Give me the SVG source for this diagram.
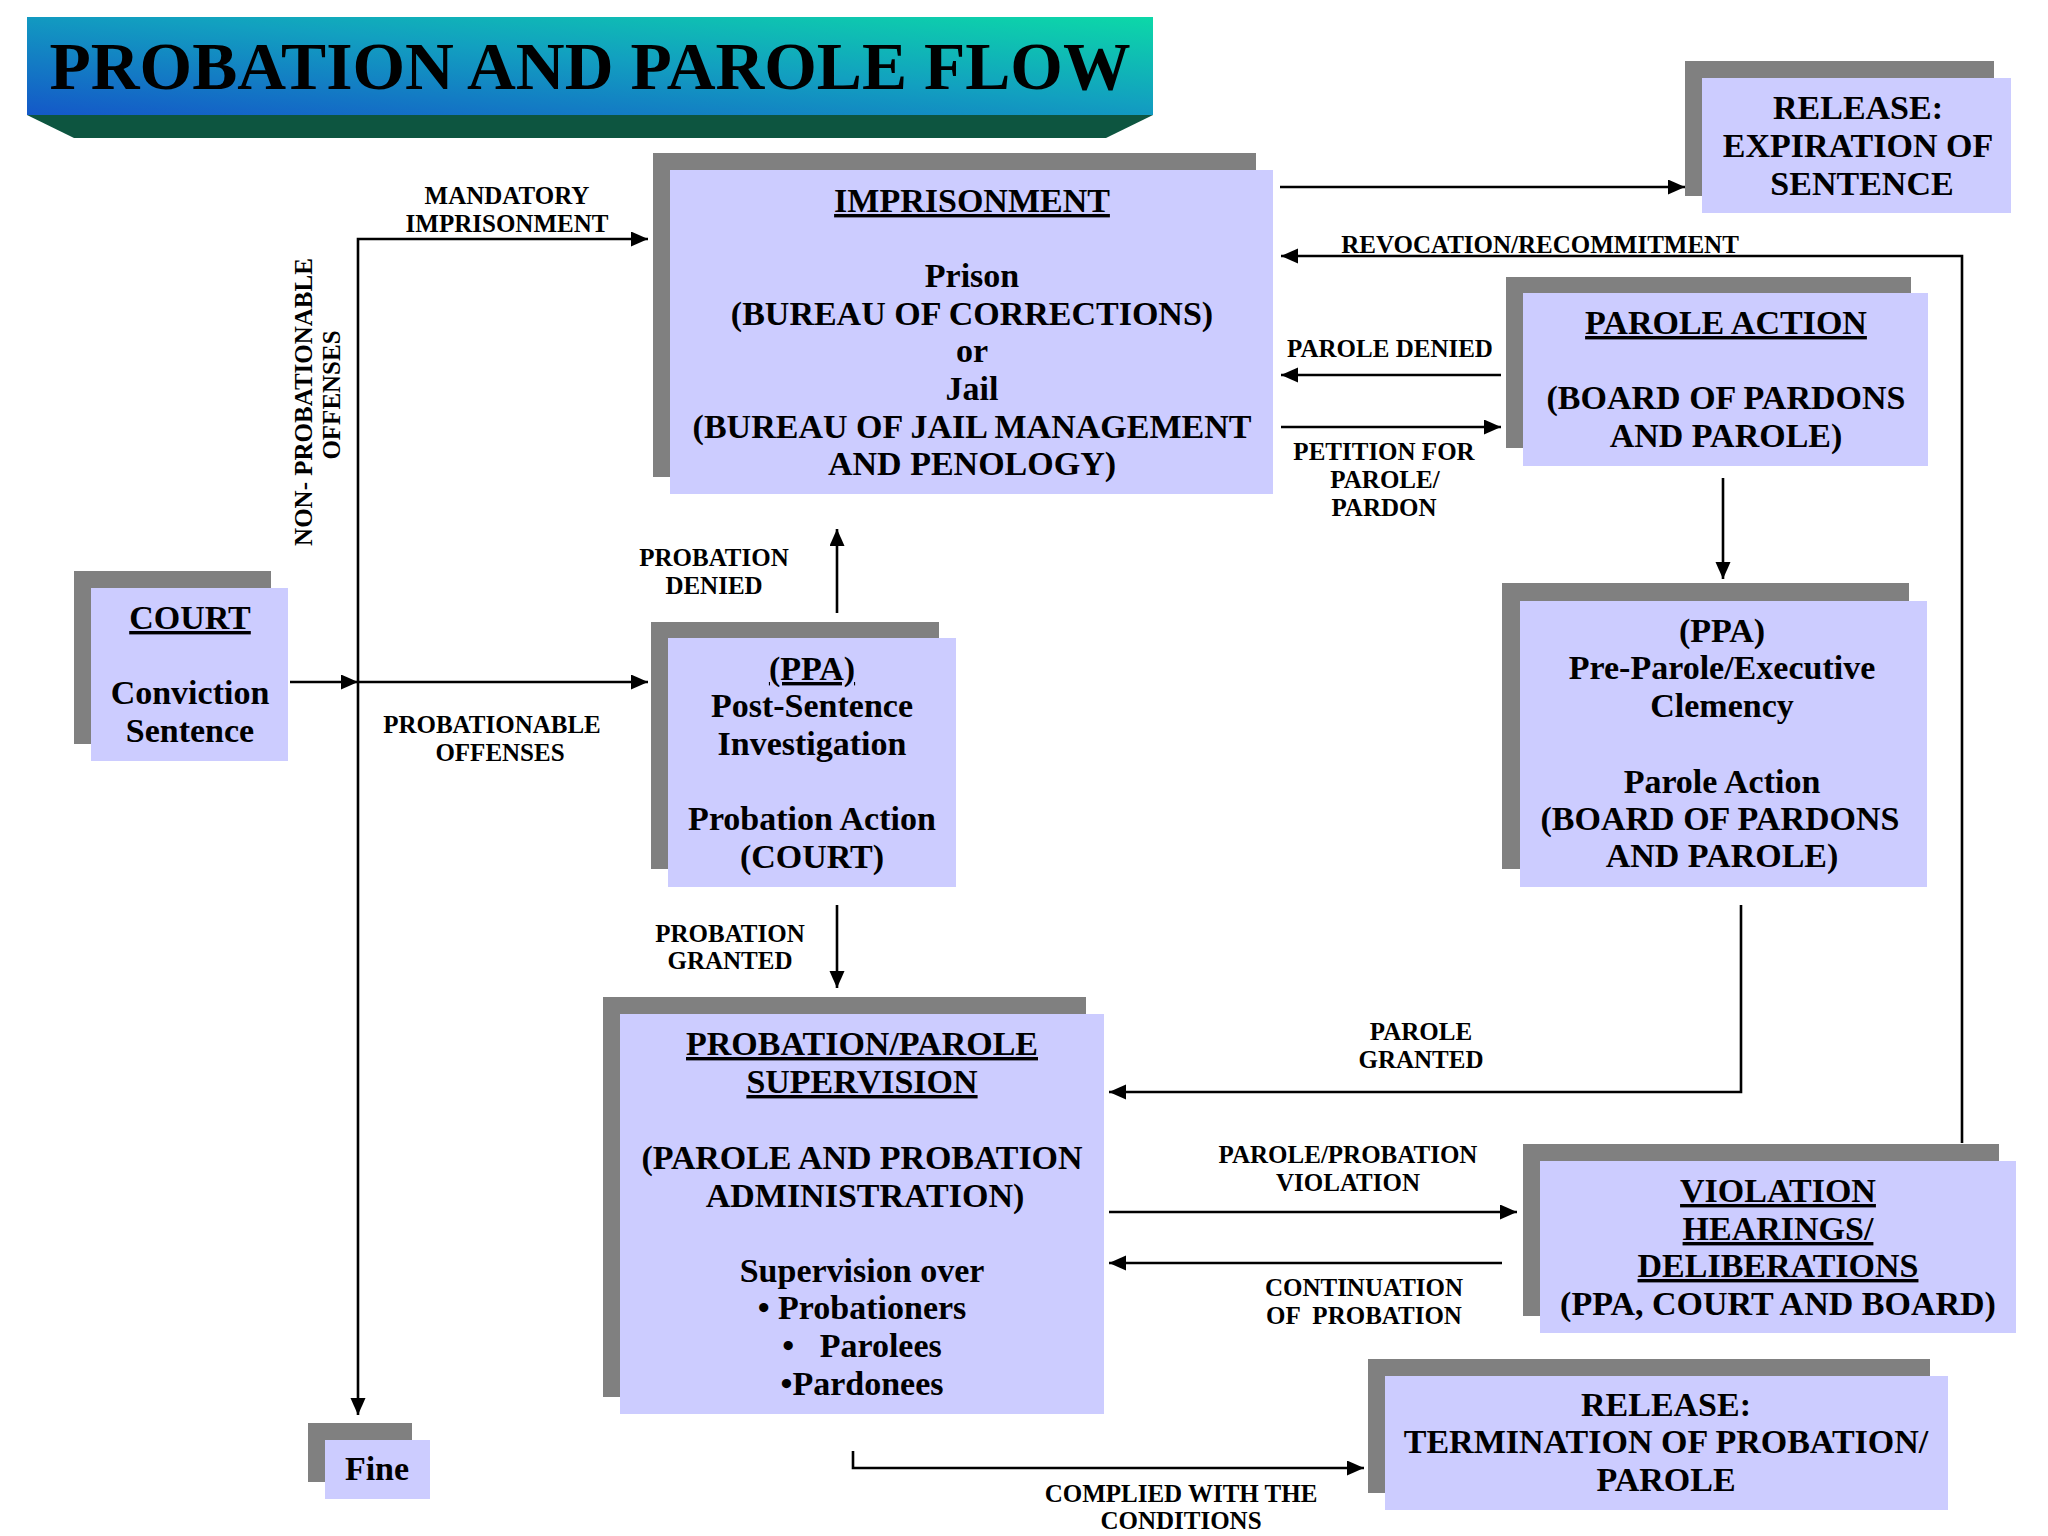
<svg xmlns="http://www.w3.org/2000/svg" width="2048" height="1536" viewBox="0 0 2048 1536">
<defs>
<style>
.t{font-family:"Liberation Serif","Times New Roman",serif;font-weight:bold;fill:#000;text-anchor:middle}
.b{font-size:34px}
.l{font-size:25px}
.u{text-decoration:underline}
.sh{fill:#808080}
.fr{fill:#ccccff}
.c{stroke:#000;stroke-width:2.6;fill:none}
.a{marker-end:url(#ah)}
</style>
<linearGradient id="tg" x1="0" y1="1" x2="1" y2="0">
<stop offset="0" stop-color="#1458c8"/>
<stop offset="0.55" stop-color="#12a0c0"/>
<stop offset="1" stop-color="#0cd8a8"/>
</linearGradient>
<marker id="ah" markerUnits="userSpaceOnUse" markerWidth="18" markerHeight="16" refX="17" refY="7.5" orient="auto">
<path d="M0,0 L17,7.5 L0,15 z" fill="#000"/>
</marker>
</defs>
<rect width="2048" height="1536" fill="#ffffff"/>

<g id="title">
<polygon points="27,115 1153,115 1106,138 74,138" fill="#0d5540"/>
<rect x="27" y="17" width="1126" height="98" fill="url(#tg)"/>
<text class="t" x="590" y="89" font-size="68" textLength="1081" lengthAdjust="spacingAndGlyphs">PROBATION AND PAROLE FLOW</text>
</g>

<g id="connectors">
<polyline class="c a" points="358,682 358,1415"/>
<polyline class="c a" points="358,682 358,239 648,239"/>
<line class="c a" x1="290" y1="682" x2="358" y2="682"/>
<line class="c a" x1="358" y1="682" x2="648" y2="682"/>
<line class="c a" x1="837" y1="613" x2="837" y2="529"/>
<line class="c a" x1="837" y1="905" x2="837" y2="988"/>
<line class="c a" x1="1280" y1="187" x2="1685" y2="187"/>
<polyline class="c a" points="1962,1143 1962,256 1281,256"/>
<line class="c a" x1="1501" y1="375" x2="1281" y2="375"/>
<line class="c a" x1="1281" y1="427" x2="1501" y2="427"/>
<line class="c a" x1="1723" y1="478" x2="1723" y2="579"/>
<polyline class="c a" points="1741,905 1741,1092 1109,1092"/>
<line class="c a" x1="1109" y1="1212" x2="1517" y2="1212"/>
<line class="c a" x1="1502" y1="1263" x2="1109" y2="1263"/>
<polyline class="c a" points="853,1451 853,1468 1364,1468"/>
</g>

<g id="labels">
<text class="t l" x="507" y="204">MANDATORY</text>
<text class="t l" x="507" y="232">IMPRISONMENT</text>
<text class="t l" transform="translate(312,402) rotate(-90)">NON- PROBATIONABLE</text>
<text class="t l" transform="translate(340,395) rotate(-90)">OFFENSES</text>
<text class="t l" x="492" y="733">PROBATIONABLE</text>
<text class="t l" x="500" y="761">OFFENSES</text>
<text class="t l" x="714" y="566">PROBATION</text>
<text class="t l" x="714" y="594">DENIED</text>
<text class="t l" x="730" y="942">PROBATION</text>
<text class="t l" x="730" y="969">GRANTED</text>
<text class="t l" x="1540" y="253">REVOCATION/RECOMMITMENT</text>
<text class="t l" x="1390" y="357">PAROLE DENIED</text>
<text class="t l" x="1384" y="460">PETITION FOR</text>
<text class="t l" x="1385" y="488">PAROLE/</text>
<text class="t l" x="1384" y="516">PARDON</text>
<text class="t l" x="1421" y="1040">PAROLE</text>
<text class="t l" x="1421" y="1068">GRANTED</text>
<text class="t l" x="1348" y="1163">PAROLE/PROBATION</text>
<text class="t l" x="1348" y="1191">VIOLATION</text>
<text class="t l" x="1364" y="1296">CONTINUATION</text>
<text class="t l" x="1364" y="1324" xml:space="preserve">OF  PROBATION</text>
<text class="t l" x="1181" y="1502">COMPLIED WITH THE</text>
<text class="t l" x="1181" y="1529">CONDITIONS</text>
</g>

<g id="release-expiration">
<rect class="sh" x="1685" y="61" width="309" height="135"/>
<rect class="fr" x="1702" y="78" width="309" height="135"/>
<text class="t b" x="1858" y="119">RELEASE:</text>
<text class="t b" x="1858" y="157">EXPIRATION OF</text>
<text class="t b" x="1862" y="195">SENTENCE</text>
</g>

<g id="imprisonment">
<rect class="sh" x="653" y="153" width="603" height="324"/>
<rect class="fr" x="670" y="170" width="603" height="324"/>
<text class="t b u" x="972" y="212">IMPRISONMENT</text>
<text class="t b" x="972" y="287">Prison</text>
<text class="t b" x="972" y="325">(BUREAU OF CORRECTIONS)</text>
<text class="t b" x="972" y="362">or</text>
<text class="t b" x="972" y="400">Jail</text>
<text class="t b" x="972" y="438">(BUREAU OF JAIL MANAGEMENT</text>
<text class="t b" x="972" y="475">AND PENOLOGY)</text>
</g>

<g id="court">
<rect class="sh" x="74" y="571" width="197" height="173"/>
<rect class="fr" x="91" y="588" width="197" height="173"/>
<text class="t b u" x="190" y="629">COURT</text>
<text class="t b" x="190" y="704">Conviction</text>
<text class="t b" x="190" y="742">Sentence</text>
</g>

<g id="post-sentence">
<rect class="sh" x="651" y="622" width="288" height="247"/>
<rect class="fr" x="668" y="638" width="288" height="249"/>
<text class="t b u" x="812" y="680">(PPA)</text>
<text class="t b" x="812" y="717">Post-Sentence</text>
<text class="t b" x="812" y="755">Investigation</text>
<text class="t b" x="812" y="830">Probation Action</text>
<text class="t b" x="812" y="868">(COURT)</text>
</g>

<g id="parole-action">
<rect class="sh" x="1506" y="277" width="405" height="171"/>
<rect class="fr" x="1523" y="293" width="405" height="173"/>
<text class="t b u" x="1726" y="334">PAROLE ACTION</text>
<text class="t b" x="1726" y="409">(BOARD OF PARDONS</text>
<text class="t b" x="1726" y="447">AND PAROLE)</text>
</g>

<g id="pre-parole">
<rect class="sh" x="1502" y="583" width="407" height="286"/>
<rect class="fr" x="1520" y="601" width="407" height="286"/>
<text class="t b" x="1722" y="642">(PPA)</text>
<text class="t b" x="1722" y="679">Pre-Parole/Executive</text>
<text class="t b" x="1722" y="717">Clemency</text>
<text class="t b" x="1722" y="793">Parole Action</text>
<text class="t b" x="1720" y="830">(BOARD OF PARDONS</text>
<text class="t b" x="1722" y="867">AND PAROLE)</text>
</g>

<g id="supervision">
<rect class="sh" x="603" y="997" width="483" height="400"/>
<rect class="fr" x="620" y="1014" width="484" height="400"/>
<text class="t b u" x="862" y="1055">PROBATION/PAROLE</text>
<text class="t b u" x="862" y="1093">SUPERVISION</text>
<text class="t b" x="862" y="1169" textLength="441">(PAROLE AND PROBATION</text>
<text class="t b" x="865" y="1207">ADMINISTRATION)</text>
<text class="t b" x="862" y="1282">Supervision over</text>
<text class="t b" x="862" y="1319">• Probationers</text>
<text class="t b" x="862" y="1357" xml:space="preserve">•   Parolees</text>
<text class="t b" x="862" y="1395">•Pardonees</text>
</g>

<g id="violation">
<rect class="sh" x="1523" y="1144" width="476" height="172"/>
<rect class="fr" x="1540" y="1161" width="476" height="172"/>
<text class="t b u" x="1778" y="1202">VIOLATION</text>
<text class="t b u" x="1778" y="1240">HEARINGS/</text>
<text class="t b u" x="1778" y="1277">DELIBERATIONS</text>
<text class="t b" x="1778" y="1315">(PPA, COURT AND BOARD)</text>
</g>

<g id="release-termination">
<rect class="sh" x="1368" y="1359" width="562" height="134"/>
<rect class="fr" x="1385" y="1376" width="563" height="134"/>
<text class="t b" x="1666" y="1416">RELEASE:</text>
<text class="t b" x="1666" y="1453">TERMINATION OF PROBATION/</text>
<text class="t b" x="1666" y="1491">PAROLE</text>
</g>

<g id="fine">
<rect class="sh" x="308" y="1423" width="104" height="59"/>
<rect class="fr" x="325" y="1440" width="105" height="59"/>
<text class="t b" x="377" y="1480">Fine</text>
</g>
</svg>
